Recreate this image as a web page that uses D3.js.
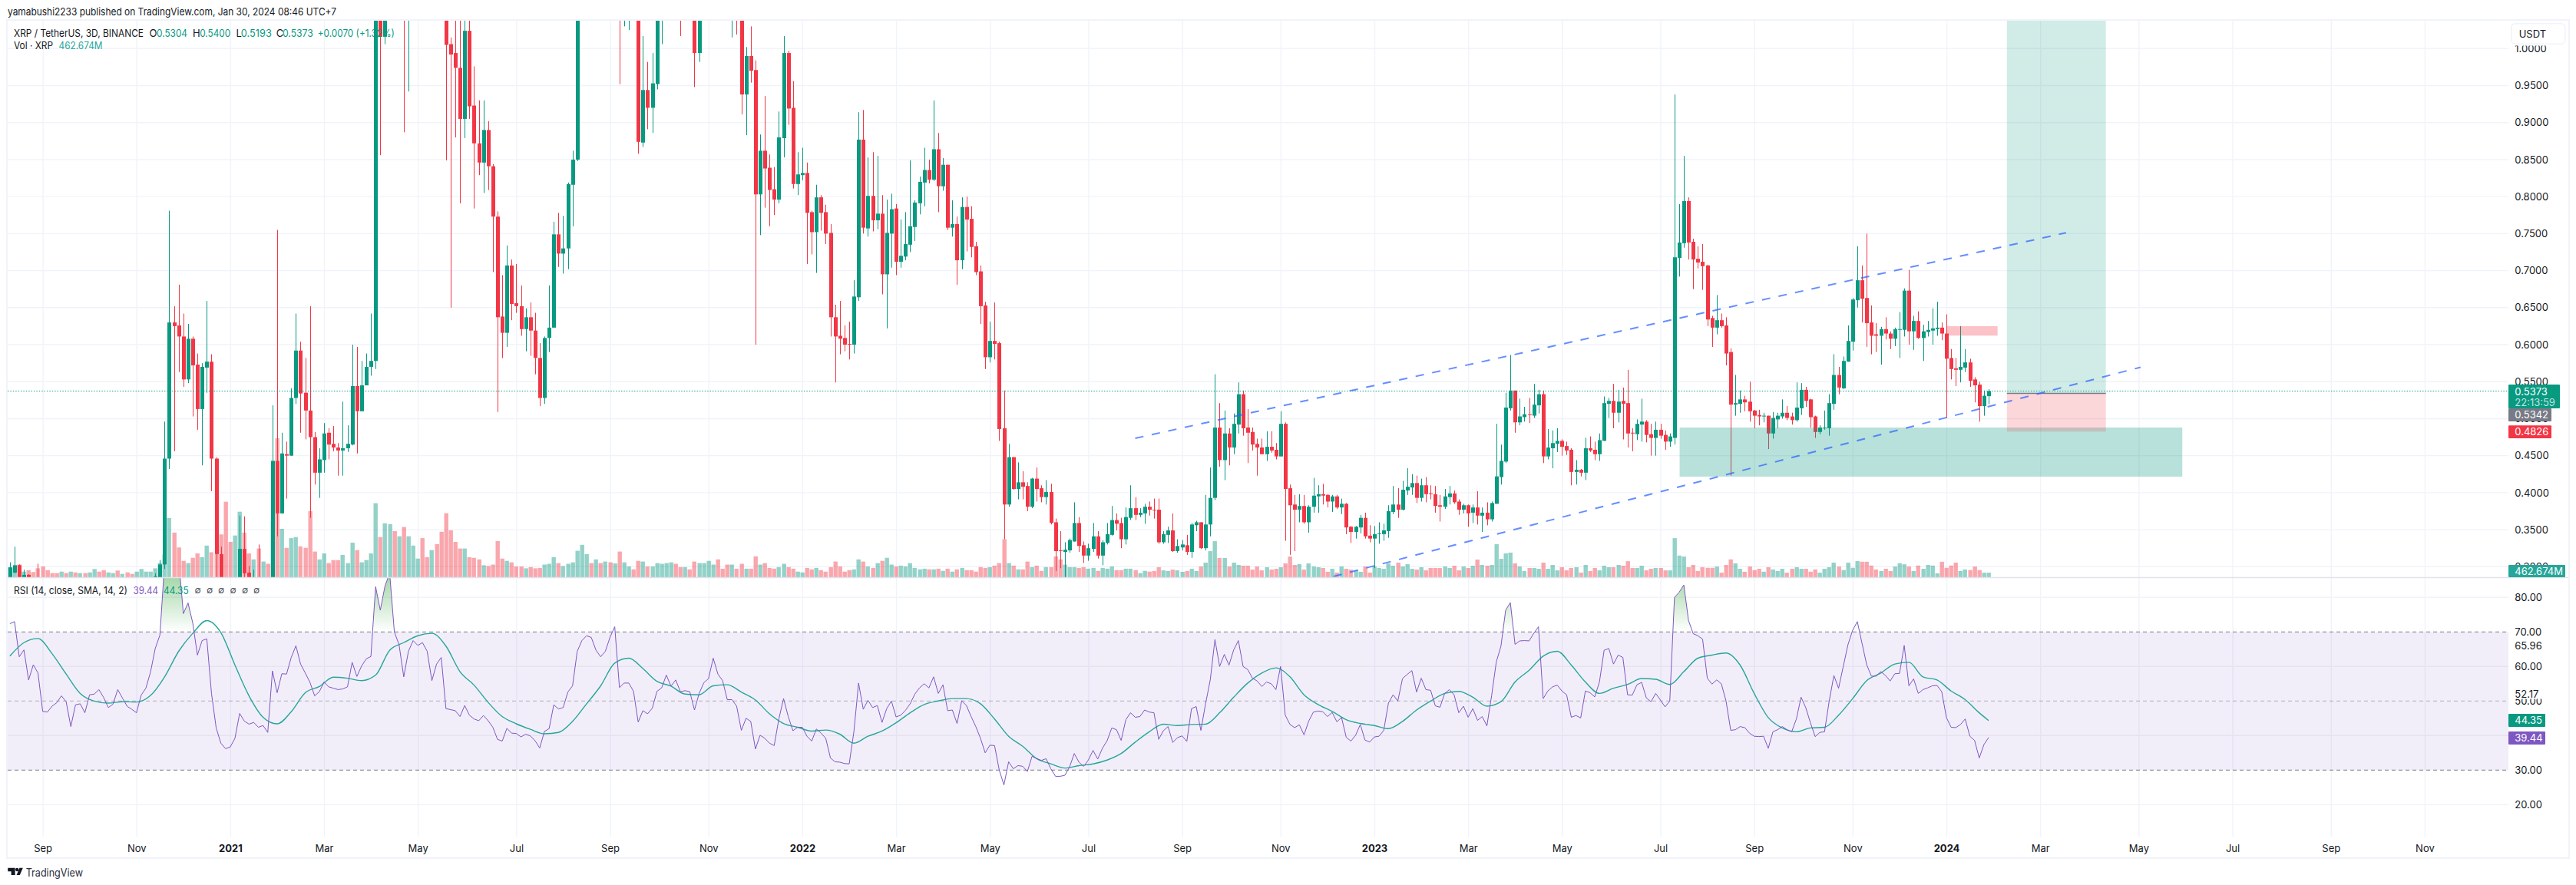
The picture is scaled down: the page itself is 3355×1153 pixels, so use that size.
<!DOCTYPE html>
<html>
<head>
<meta charset="utf-8">
<script src="https://cdn.jsdelivr.net/npm/d3@7/dist/d3.min.js"></script>
<style>
html,body{margin:0;padding:0;background:#fff}
svg{display:block}
text{font-family:Inter,"Noto Sans",sans-serif}
</style>
</head>
<body>
<svg id="chart" width="3355" height="1153"></svg>
<script>
// XRP / USDT three-day candles, Aug 2020 - Jan 2024
const opens=[.280,.292,.302,.275,.289,.280,.270,.268,.262,.255,
.248,.242,.248,.240,.244,.241,.246,.243,.247,.254,
.252,.246,.249,.255,.250,.252,.249,.246,.250,.254,
.258,.264,.285,.303,.446,.630,.626,.611,.553,.608,
.573,.513,.569,.577,.446,.317,.280,.240,.215,.265,
.324,.292,.270,.285,.270,.280,.270,.443,.372,.452,
.450,.528,.592,.535,.511,.475,.427,.444,.481,.466,
.461,.457,.460,.465,.544,.510,.545,.570,.578,1.12,
1.016,1.12,1.40,1.35,1.38,1.08,1.35,1.45,1.60,1.50,
1.45,1.60,1.50,1.30,1.006,.994,.974,.905,1.024,.923,
.872,.846,.890,.841,.773,.638,.616,.707,.656,.652,
.621,.637,.619,.582,.528,.609,.623,.749,.723,.730,
.816,.850,1.10,1.18,1.25,1.20,1.25,1.18,1.22,1.12,
1.18,1.10,1.15,1.18,1.10,.873,.944,.920,.952,1.06,
1.14,1.18,1.20,1.12,1.06,1.10,1.07,.994,1.06,1.12,
1.16,1.25,1.20,1.12,1.08,1.11,1.06,.938,.990,.971,
.803,.862,.839,.810,.796,.879,.994,.920,.817,.829,
.832,.779,.752,.799,.779,.751,.637,.612,.609,.601,
.600,.664,.877,.757,.801,.768,.777,.695,.750,.784,
.712,.719,.735,.759,.791,.819,.836,.823,.864,.814,
.843,.758,.763,.714,.786,.770,.733,.699,.653,.583,
.605,.602,.487,.384,.448,.405,.414,.409,.381,.419,
.406,.394,.401,.360,.322,.320,.322,.334,.359,.329,
.315,.324,.341,.315,.332,.343,.363,.359,.337,.366,
.379,.370,.372,.381,.377,.377,.333,.343,.349,.321,
.326,.329,.320,.356,.360,.325,.357,.393,.488,.444,
.480,.461,.492,.533,.488,.482,.466,.461,.452,.462,
.458,.449,.493,.406,.384,.377,.382,.360,.381,.395,
.398,.397,.388,.395,.380,.385,.354,.347,.353,.366,
.342,.338,.344,.344,.348,.374,.384,.377,.403,.407,
.413,.393,.410,.399,.398,.383,.381,.394,.399,.388,
.377,.383,.373,.380,.369,.373,.364,.385,.421,.442,
.514,.538,.495,.502,.506,.504,.518,.533,.449,.460,
.466,.470,.463,.458,.428,.431,.427,.460,.458,.452,
.470,.520,.524,.508,.524,.521,.481,.479,.492,.496,
.479,.474,.485,.478,.469,.474,.717,.737,.794,.739,
.716,.712,.707,.636,.623,.633,.626,.590,.519,.520,
.526,.523,.511,.505,.503,.504,.480,.499,.503,.508,
.503,.498,.514,.539,.526,.503,.482,.487,.487,.520,
.559,.541,.577,.604,.660,.687,.663,.630,.614,.612,
.621,.615,.608,.620,.620,.673,.618,.632,.609,.617,
.619,.621,.623,.615,.582,.568,.566,.569,.576,.553,
.546,.517,.5304];
const closes=[.299,.302,.275,.289,.280,.270,.268,.262,.255,.248,
.242,.248,.240,.244,.241,.246,.243,.247,.254,.252,
.246,.249,.255,.250,.252,.249,.246,.250,.254,.258,
.264,.287,.303,.446,.630,.625,.611,.553,.608,.572,
.513,.570,.577,.446,.317,.280,.240,.215,.265,.324,
.291,.275,.280,.270,.280,.270,.443,.372,.453,.450,
.528,.592,.534,.511,.475,.427,.445,.480,.465,.461,
.457,.460,.466,.544,.510,.545,.570,.578,1.12,1.016,
1.12,1.40,1.35,1.38,1.08,1.35,1.45,1.60,1.50,1.45,
1.60,1.50,1.30,1.005,.992,.974,.905,1.024,.922,.872,
.846,.890,.841,.773,.637,.616,.707,.655,.652,.621,
.637,.619,.582,.528,.609,.623,.749,.723,.730,.817,
.850,1.10,1.18,1.25,1.20,1.25,1.18,1.22,1.12,1.18,
1.10,1.15,1.18,1.10,.874,.944,.920,.953,1.06,1.14,
1.18,1.20,1.12,1.06,1.10,1.06,.994,1.06,1.12,1.16,
1.25,1.20,1.12,1.08,1.11,1.06,.938,.990,.970,.803,
.862,.838,.809,.796,.880,.994,.919,.817,.830,.832,
.778,.752,.799,.778,.750,.637,.611,.608,.600,.600,
.665,.877,.758,.801,.768,.777,.695,.751,.783,.712,
.720,.736,.760,.792,.820,.836,.823,.864,.814,.843,
.758,.763,.714,.786,.769,.732,.698,.652,.583,.605,
.601,.486,.384,.448,.405,.414,.408,.381,.419,.405,
.394,.401,.359,.321,.321,.323,.336,.359,.328,.315,
.325,.341,.315,.333,.344,.363,.358,.337,.367,.379,
.370,.373,.381,.377,.376,.333,.344,.349,.321,.328,
.330,.320,.357,.360,.325,.357,.393,.488,.444,.480,
.461,.493,.533,.487,.481,.465,.461,.452,.462,.457,
.449,.493,.405,.383,.377,.382,.360,.381,.396,.398,
.396,.388,.395,.380,.385,.353,.347,.354,.366,.341,
.338,.344,.345,.349,.375,.384,.377,.404,.408,.413,
.393,.410,.398,.398,.382,.381,.395,.399,.387,.377,
.383,.372,.380,.369,.373,.364,.386,.422,.443,.515,
.538,.495,.503,.506,.505,.519,.533,.449,.461,.467,
.470,.462,.457,.428,.431,.427,.460,.457,.452,.471,
.521,.524,.508,.523,.520,.480,.480,.493,.496,.478,
.474,.485,.477,.469,.476,.718,.738,.794,.738,.715,
.711,.706,.634,.623,.633,.625,.588,.519,.521,.526,
.522,.510,.504,.503,.504,.480,.501,.504,.508,.501,
.498,.515,.539,.524,.502,.482,.488,.488,.521,.559,
.542,.578,.605,.661,.687,.662,.629,.612,.612,.621,
.615,.608,.621,.621,.673,.618,.632,.609,.618,.620,
.622,.623,.615,.581,.567,.566,.570,.576,.551,.545,
.517,.531,.5373];
const highs=[.306,.327,.303,.296,.290,.284,.304,.278,.270,.262,
.256,.252,.254,.248,.250,.248,.254,.250,.256,.262,
.258,.254,.258,.260,.258,.260,.256,.254,.258,.262,
.270,.291,.309,.496,.781,.652,.681,.642,.628,.611,
.588,.575,.659,.587,.448,.327,.285,.250,.270,.369,
.368,.301,.296,.330,.284,.283,.518,.755,.481,.469,
.541,.642,.604,.582,.652,.482,.460,.494,.487,.490,
.467,.523,.491,.600,.597,.578,.588,.642,1.18,1.15,
1.25,1.42,1.50,1.50,1.42,1.50,1.52,1.65,1.70,1.62,
1.65,1.68,1.60,1.70,1.015,1.08,1.05,1.10,1.06,.976,
.930,.930,.902,.844,.780,.694,.734,.715,.709,.680,
.649,.657,.643,.602,.611,.680,.766,.778,.774,.819,
.862,1.15,1.25,1.35,1.35,1.32,1.35,1.28,1.30,1.20,
1.25,1.20,1.22,1.24,1.12,1.017,.982,.994,1.12,1.20,
1.20,1.25,1.26,1.16,1.14,1.12,1.10,1.10,1.14,1.20,
1.30,1.34,1.24,1.15,1.15,1.12,1.08,1.002,1.030,.984,
.884,.936,.857,.840,.915,1.017,.997,.956,.860,.866,
.846,.781,.816,.802,.789,.763,.654,.659,.626,.631,
.687,.914,.917,.853,.860,.855,.802,.796,.804,.790,
.769,.779,.849,.795,.827,.866,.850,.930,.886,.852,
.843,.795,.773,.799,.800,.787,.739,.707,.658,.631,
.657,.604,.538,.466,.448,.441,.429,.414,.420,.434,
.410,.417,.412,.365,.348,.333,.338,.387,.367,.334,
.331,.359,.348,.336,.359,.382,.372,.366,.380,.410,
.394,.379,.385,.388,.392,.392,.348,.354,.372,.337,
.336,.343,.359,.362,.360,.397,.434,.560,.521,.511,
.487,.507,.549,.538,.513,.488,.473,.473,.483,.483,
.467,.510,.495,.411,.397,.398,.397,.383,.420,.410,
.412,.398,.397,.397,.392,.386,.355,.355,.370,.373,
.356,.355,.360,.358,.383,.409,.406,.416,.433,.425,
.423,.419,.421,.410,.409,.397,.405,.409,.403,.391,
.385,.384,.384,.402,.380,.387,.388,.493,.465,.535,
.586,.538,.527,.516,.528,.547,.539,.538,.486,.484,
.487,.472,.469,.460,.444,.432,.474,.476,.469,.480,
.530,.528,.547,.539,.542,.566,.487,.499,.527,.498,
.493,.496,.493,.484,.480,.938,.790,.855,.799,.743,
.733,.736,.708,.639,.667,.642,.637,.595,.559,.538,
.531,.550,.512,.512,.508,.504,.509,.508,.526,.517,
.508,.549,.548,.543,.527,.504,.491,.511,.533,.587,
.570,.584,.626,.663,.733,.707,.750,.653,.629,.624,
.637,.618,.623,.644,.676,.701,.639,.645,.627,.632,
.649,.658,.630,.641,.594,.582,.625,.594,.581,.556,
.550,.538,.5400];
const lows=[.272,.291,.268,.270,.272,.265,.262,.255,.250,.245,
.238,.236,.238,.234,.238,.236,.240,.236,.242,.248,
.244,.240,.244,.246,.244,.246,.240,.236,.244,.248,
.252,.258,.275,.297,.432,.456,.563,.543,.548,.503,
.485,.437,.535,.402,.280,.270,.210,.200,.205,.270,
.275,.260,.262,.258,.262,.260,.255,.341,.372,.392,
.450,.520,.481,.472,.366,.411,.393,.427,.445,.456,
.423,.423,.455,.464,.453,.510,.549,.558,.567,.856,
1.006,1.10,1.20,1.20,.887,.942,1.30,1.40,1.42,1.38,
1.35,1.40,1.28,.849,.650,.880,.791,.879,.905,.784,
.829,.805,.809,.698,.509,.582,.597,.633,.643,.612,
.591,.585,.560,.517,.520,.590,.623,.705,.696,.702,
.760,.848,1.07,1.10,1.12,1.10,1.15,1.08,1.10,1.06,
.952,1.030,1.025,1.06,.858,.867,.891,.886,.945,1.006,
1.08,1.12,1.10,1.017,1.045,1.045,.948,.982,1.05,1.08,
1.12,1.14,1.08,1.05,1.015,1.019,.911,.883,.954,.600,
.748,.785,.760,.775,.791,.853,.897,.811,.802,.822,
.709,.722,.697,.754,.736,.611,.549,.587,.591,.580,
.588,.659,.750,.746,.753,.756,.668,.622,.704,.694,
.704,.714,.725,.740,.776,.787,.818,.821,.779,.808,
.755,.746,.681,.702,.726,.718,.694,.628,.567,.576,
.580,.470,.337,.381,.404,.391,.391,.375,.379,.388,
.387,.384,.357,.294,.298,.285,.319,.334,.320,.305,
.308,.320,.311,.302,.330,.342,.349,.325,.330,.363,
.363,.367,.358,.369,.365,.331,.331,.332,.320,.319,
.322,.316,.312,.348,.324,.322,.341,.390,.435,.417,
.437,.452,.480,.477,.440,.457,.423,.452,.443,.454,
.445,.449,.335,.316,.321,.360,.358,.346,.373,.373,
.384,.380,.374,.378,.371,.344,.332,.338,.345,.338,
.333,.298,.331,.335,.339,.371,.366,.376,.397,.397,
.386,.388,.387,.391,.373,.361,.378,.384,.385,.370,
.372,.354,.359,.357,.347,.356,.361,.385,.411,.440,
.511,.481,.491,.496,.494,.501,.507,.440,.445,.433,
.455,.450,.451,.410,.411,.422,.417,.455,.444,.443,
.470,.501,.487,.495,.472,.461,.456,.471,.469,.468,
.450,.450,.473,.458,.462,.465,.692,.731,.715,.675,
.703,.674,.625,.597,.614,.623,.572,.423,.504,.508,
.510,.496,.487,.491,.495,.459,.473,.487,.500,.498,
.492,.496,.505,.516,.488,.474,.479,.485,.477,.512,
.533,.540,.577,.592,.650,.630,.597,.587,.590,.573,
.607,.594,.598,.582,.611,.600,.593,.608,.578,.611,
.600,.612,.606,.501,.553,.544,.549,.563,.543,.522,
.496,.504,.5193];
// traded volume per bar, millions of XRP
const volumes=[1030,1030,1290,570,720,530,910,1100,720,420,
420,570,420,570,490,420,420,490,840,570,
720,490,420,680,340,490,340,570,840,570,
570,910,1440,2300,6040,4560,3040,1670,1440,1980,
2430,2050,3230,2550,2360,4370,7710,3610,4260,6690,
4560,2430,1820,2930,1600,1370,5780,14210,4940,3000,
3990,4100,3150,3000,6760,2620,1820,2430,1440,1750,
1750,2280,1440,3530,2770,1520,1750,2430,7560,4100,
5510,5430,4710,4180,5130,4180,3230,1900,3990,2050,
2770,3380,4640,6540,4790,3610,2930,2930,2050,1980,
1820,1220,1140,1290,3690,1900,1670,1520,1100,1100,
910,1030,910,950,1290,1370,2050,1440,1140,1370,
1520,2700,3310,2360,1440,1820,1440,1600,1520,1410,
2620,1520,1100,800,1670,1600,1100,1100,1440,1370,
1440,1520,1370,1030,1030,800,1600,1440,1440,1670,
1290,1820,870,1290,1290,870,1370,870,870,2130,
1290,1440,950,870,1030,1370,1030,870,570,490,
950,800,950,720,570,1030,1600,1100,570,720,
800,1820,1600,1100,950,1440,1670,1980,1290,1100,
1180,1100,1440,950,800,870,800,800,870,650,
870,570,800,950,720,720,570,1030,950,1030,
1180,1440,3880,1440,1180,800,800,1600,1030,1180,
650,1030,1030,2130,1820,1290,1030,1030,950,1030,
870,950,650,950,870,1100,720,720,870,870,
720,420,650,570,630,1020,700,630,780,700,
550,630,860,630,1100,1490,2660,3680,1960,1960,
1100,1490,1250,1170,1170,780,1100,700,1020,780,
860,1020,1410,2110,1250,1330,780,1410,1100,1020,
940,550,860,470,1100,860,780,700,550,1100,
470,1100,940,860,1410,1170,1490,1100,1330,860,
780,1020,700,940,940,940,1100,940,1170,700,
1100,940,1170,1800,1250,1170,1250,3370,1880,2430,
2510,1410,1100,630,940,940,860,1490,860,1250,
700,1020,700,940,1020,470,1250,630,940,700,
1170,1020,1020,1250,1170,1640,940,940,1170,700,
860,940,940,700,700,3990,2210,2110,1020,1250,
630,1020,960,960,1090,460,1250,1820,1420,860,
560,1090,730,860,560,1020,790,630,860,460,
860,1020,860,860,560,790,460,860,1020,1490,
1090,730,1490,960,1650,1580,1580,1190,790,630,
860,630,1090,1420,1320,1090,630,1190,860,1250,
1190,400,1580,960,1190,1490,630,790,730,1090,
730,460,462.674];
// RSI(14) of the close, one value per bar
const rsiValues=[72.4,73.0,62.8,64.8,56.1,60.5,58.1,47.0,46.8,48.5,
49.5,51.5,49.8,42.6,48.9,49.2,46.6,51.8,52.0,53.3,
51.0,48.1,49.1,53.3,50.9,48.5,47.6,46.6,51.7,53.7,
58.4,65.2,69.1,90,93,90,91,75.3,78.4,72.6,
63.3,67.5,68.0,52.2,42.2,37.8,36.2,36.7,39.2,46.4,
44.2,43.3,43.8,42.4,42.9,40.9,58.7,52.4,57.9,57.8,
62.6,66.0,60.7,58.1,55.4,51.5,52.7,55.5,54.1,53.7,
53.3,53.5,54.1,61.2,57.1,60.1,62.2,62.9,83.1,76.3,
83.3,87.0,70.0,66.3,57.0,64.4,67.5,66.1,66.9,64.4,
55.9,60.7,62.6,47.8,47.5,47.2,45.5,48.7,45.9,44.8,
44.3,45.8,44.3,42.4,38.9,38.4,42.1,40.7,40.6,39.6,
40.4,39.9,38.5,36.4,41.2,42.0,48.9,47.7,48.1,52.6,
54.4,64.4,67.5,68.9,68.4,64.7,62.8,64.4,68.5,71.5,
53.9,55.2,55.2,52.8,43.9,47.2,46.3,47.9,52.8,53.8,
57.5,54.3,56.1,52.7,53.0,52.7,47.4,52.2,55.3,56.5,
62.4,57.8,55.9,50.4,50.4,48.5,41.5,45.0,44.1,36.1,
40.1,39.2,37.8,37.1,44.8,50.7,45.5,41.4,42.4,42.4,
39.8,38.4,41.9,40.7,39.2,33.5,32.4,32.3,31.9,31.8,
41.1,55.2,47.6,50.2,48.1,48.7,43.8,47.8,50.0,45.4,
45.9,47.3,49.2,52.0,53.8,55.0,53.8,57.0,52.2,54.7,
47.2,47.4,43.5,50.1,48.7,45.5,42.6,39.2,35.0,37.2,
37.1,30.0,25.7,32.4,30.4,31.3,31.1,29.6,34.0,33.3,
32.8,33.3,30.4,28.2,28.2,28.5,30.9,34.8,32.3,31.1,
32.9,35.7,33.2,36.3,38.5,42.2,41.7,38.6,44.6,46.6,
45.3,45.5,47.4,46.8,46.6,38.9,41.4,42.6,38.0,39.4,
39.9,38.3,47.8,48.4,41.5,49.2,56.1,67.8,60.0,63.5,
60.4,64.8,67.5,60.0,59.1,56.6,55.8,54.2,55.5,55.0,
53.3,60.0,45.9,43.2,42.3,43.1,40.2,44.2,46.8,47.1,
46.9,45.5,46.7,44.0,45.2,39.5,38.4,40.1,43.2,38.7,
38.1,39.6,39.8,41.5,49.4,51.8,50.0,56.5,57.7,58.8,
52.6,56.6,53.3,53.1,48.6,48.2,52.2,53.3,51.8,46.6,
48.5,45.3,47.8,44.4,45.5,42.8,51.5,61.3,65.9,76.3,
78.5,66.4,67.4,67.5,67.4,69.6,71.5,50.7,52.9,54.1,
54.6,52.9,51.8,45.3,45.8,45.1,52.9,52.4,51.2,55.5,
64.7,65.2,60.7,63.3,62.6,51.8,51.7,54.7,55.4,50.9,
49.8,52.2,50.3,48.3,50.0,80.0,81.5,83.6,73.3,69.5,
68.9,67.9,56.6,54.9,56.1,55.0,50.0,41.5,41.7,42.6,
42.3,40.7,39.8,39.7,39.8,36.3,41.1,41.7,42.6,41.7,
41.1,44.8,51.1,48.1,43.7,39.7,40.9,41.1,50.0,57.4,
53.7,60.0,66.3,70.5,73.0,66.7,60.5,57.2,57.2,58.5,
57.4,55.8,57.9,58.0,66.1,54.4,56.4,52.2,53.3,53.8,
54.4,54.5,52.7,45.2,42.4,42.3,43.2,44.8,39.8,38.6,
33.5,37.4,39.44];
// smoothing average of the RSI, read every third bar and at the last bar
const smaBars=d3.range(0,421,3).concat([422]);
const smaValues=[63.0,66.9,68.1,63.7,57.8,52.2,50.0,49.4,49.8,49.7,
51.6,57.0,64.4,69.6,73.3,69.8,60.4,51.5,45.3,43.4,
46.9,52.4,54.2,56.9,56.6,55.9,57.5,64.7,66.9,68.9,
69.6,65.9,58.5,54.6,49.6,45.5,43.4,41.8,40.5,40.9,
44.1,49.2,54.4,61.0,62.4,59.4,55.7,54.3,52.0,51.8,
54.4,54.7,52.6,50.3,46.3,43.5,42.4,41.3,41.6,40.4,
37.8,39.8,41.3,43.7,46.6,49.0,50.0,50.7,50.7,49.2,
44.8,39.8,36.9,33.3,31.8,30.6,31.3,31.8,32.9,34.8,
38.1,41.1,43.3,42.9,43.2,43.3,46.6,51.1,55.2,58.1,
59.6,57.0,51.8,49.0,47.0,44.6,43.5,42.9,42.0,44.1,
47.4,50.0,52.2,52.8,51.1,48.5,49.8,55.5,58.9,63.0,
64.4,60.4,55.5,52.2,53.7,54.8,56.5,56.3,54.8,58.5,
62.4,63.3,63.9,60.4,52.2,45.2,42.2,41.1,42.2,42.4,
45.9,50.7,55.9,58.1,60.7,61.2,57.0,56.1,52.9,50.4,
46.6,44.35];

// time axis: bar index of each two-month mark
const tickBars=[7,27,47,67,87,108,128,149,169,189,209,230,250,271,291,311,331,352,372,393,413,433,454,474,495,515];
const tickLabels=["Sep","Nov","2021","Mar","May","Jul","Sep","Nov","2022","Mar","May","Jul","Sep","Nov","2023","Mar","May","Jul","Sep","Nov","2024","Mar","May","Jul","Sep","Nov"];
const priceTicks=[1,.95,.9,.85,.8,.75,.7,.65,.6,.55,.5,.45,.4,.35,.3];
const rsiTicks=[80,70,60,50,40,30,20];
const rsiGrid=[80,60,40,20];

// drawn levels
const lastClose=.5373, entryPrice=.5342, stopPrice=.4826, targetPrice=1.3;
const channelUpper={bars:[240,438.5],prices:[.4735,.7511]};
const channelLower={bars:[282.3,454.4],prices:[.2869,.5695]};
const demandZone={bars:[356.1,463.3],prices:[.488,.4217]};
const supplyZone={bars:[413.1,423.9],prices:[.625,.6122]};
const positionBars=[425.9,447];

// pane geometry
const paneLeft=10,paneRight=3267,frameRight=3345,paneTop=27,priceBottom=752,rsiBottom=1090,frameBottom=1118;
const GREEN="#089981",RED="#f23645",PURPLE="#7e57c2",GRID="#f0f3fa",INK="#131722";

const x=d3.scaleLinear().domain([0,422]).range([12.85,2590]);
const y=d3.scaleLinear().domain([1,.3]).range([63.3,738.3]);
const yVol=d3.scaleLinear().domain([0,56840]).range([priceBottom,paneTop]);
const yRsi=d3.scaleLinear().domain([80,20]).range([778.3,1048.3]);

const svg=d3.select("#chart");
const defs=svg.append("defs");
defs.append("clipPath").attr("id","pricePane").append("rect")
  .attr("x",paneLeft).attr("y",paneTop).attr("width",paneRight-paneLeft).attr("height",priceBottom-paneTop);
defs.append("clipPath").attr("id","rsiPane").append("rect")
  .attr("x",paneLeft).attr("y",priceBottom).attr("width",paneRight-paneLeft).attr("height",rsiBottom-priceBottom);
defs.append("clipPath").attr("id","overbought").append("rect")
  .attr("x",paneLeft).attr("y",priceBottom).attr("width",paneRight-paneLeft).attr("height",yRsi(70)-priceBottom);
const grad=defs.append("linearGradient").attr("id","obFill").attr("gradientUnits","userSpaceOnUse")
  .attr("x1",0).attr("x2",0).attr("y1",yRsi(70)).attr("y2",yRsi(86));
grad.append("stop").attr("offset",0).attr("stop-color","#4caf50").attr("stop-opacity",0);
grad.append("stop").attr("offset",1).attr("stop-color","#4caf50").attr("stop-opacity",.5);

svg.append("rect").attr("width",3355).attr("height",1153).attr("fill","#fff");

// vertical grid and time labels share one axis
const xAxis=d3.axisBottom(x).tickValues(tickBars).tickSize(rsiBottom-paneTop).tickPadding(11)
  .tickFormat(i=>tickLabels[tickBars.indexOf(i)]);
const gx=svg.append("g").attr("transform",`translate(0,${paneTop})`).call(xAxis);
gx.select(".domain").remove();
gx.selectAll("line").attr("stroke",GRID).attr("stroke-width",1.4);
gx.selectAll("text").attr("fill",INK).attr("font-size",13)
  .attr("font-weight",d=>/^\d+$/.test(tickLabels[tickBars.indexOf(d)])?700:400)
  .attr("font-family","Inter,sans-serif");

// horizontal grids
svg.append("g").selectAll("line").data(priceTicks).join("line")
  .attr("x1",paneLeft).attr("x2",paneRight).attr("y1",d=>y(d)).attr("y2",d=>y(d))
  .attr("stroke",GRID).attr("stroke-width",1.4);

// RSI band and levels
svg.append("rect").attr("x",paneLeft).attr("width",paneRight-paneLeft)
  .attr("y",yRsi(70)).attr("height",yRsi(30)-yRsi(70))
  .attr("fill",PURPLE).attr("fill-opacity",.1);
svg.append("g").selectAll("line").data(rsiGrid).join("line")
  .attr("x1",paneLeft).attr("x2",paneRight).attr("y1",d=>yRsi(d)).attr("y2",d=>yRsi(d))
  .attr("stroke",d=>(d==60||d==40)?"#e6e3ef":GRID).attr("stroke-width",1.4);
svg.append("g").selectAll("line").data([70,50,30]).join("line")
  .attr("x1",paneLeft).attr("x2",paneRight).attr("y1",d=>yRsi(d)).attr("y2",d=>yRsi(d))
  .attr("stroke","#787b86").attr("stroke-opacity",d=>d==50?.55:1)
  .attr("stroke-width",1).attr("stroke-dasharray","5 4");

// volume histogram
const bullish=i=>closes[i]>=opens[i];
svg.append("g").attr("clip-path","url(#pricePane)").selectAll("rect").data(volumes).join("rect")
  .attr("x",(d,i)=>Math.round(x(i))-2.5).attr("width",5.4)
  .attr("y",d=>yVol(d)).attr("height",d=>priceBottom-yVol(d))
  .attr("fill",(d,i)=>bullish(i)?GREEN:RED).attr("fill-opacity",.44);

// candles
const candles=svg.append("g").attr("clip-path","url(#pricePane)").selectAll("g").data(closes).join("g")
  .attr("fill",(d,i)=>bullish(i)?GREEN:RED);
candles.append("rect")
  .attr("x",(d,i)=>Math.round(x(i))).attr("width",1)
  .attr("y",(d,i)=>y(highs[i])).attr("height",(d,i)=>y(lows[i])-y(highs[i]));
candles.append("rect")
  .attr("x",(d,i)=>Math.round(x(i))-2).attr("width",5)
  .attr("y",(d,i)=>y(Math.max(opens[i],closes[i])))
  .attr("height",(d,i)=>Math.max(1,Math.abs(y(opens[i])-y(closes[i]))));

// drawn rectangles and long-position tool
const drawings=svg.append("g").attr("clip-path","url(#pricePane)");
const zone=(bars,hi,lo,fill,op)=>drawings.append("rect")
  .attr("x",x(bars[0])).attr("width",x(bars[1])-x(bars[0]))
  .attr("y",y(hi)).attr("height",y(lo)-y(hi)).attr("fill",fill).attr("fill-opacity",op);
zone(demandZone.bars,demandZone.prices[0],demandZone.prices[1],GREEN,.29);
zone(supplyZone.bars,supplyZone.prices[0],supplyZone.prices[1],RED,.3);
zone(positionBars,targetPrice,entryPrice,GREEN,.19);
zone(positionBars,entryPrice,stopPrice,RED,.2);
drawings.append("line").attr("x1",x(positionBars[0])).attr("x2",x(positionBars[1]))
  .attr("y1",y(entryPrice)).attr("y2",y(entryPrice)).attr("stroke","#787b86").attr("stroke-width",1.5);

// channel lines
const trend=d3.line().x(d=>x(d[0])).y(d=>y(d[1]));
[channelUpper,channelLower].forEach(c=>{
  drawings.append("path").attr("d",trend(d3.zip(c.bars,c.prices)))
    .attr("fill","none").attr("stroke","#2962ff").attr("stroke-opacity",.72)
    .attr("stroke-width",2).attr("stroke-dasharray","11 11");
});

// last-close marker line
svg.append("line").attr("x1",paneLeft).attr("x2",paneRight).attr("y1",y(lastClose)).attr("y2",y(lastClose))
  .attr("stroke",GREEN).attr("stroke-width",1).attr("stroke-dasharray","1.4 2");

// RSI panel lines
const rsiPanel=svg.append("g").attr("clip-path","url(#rsiPane)");
const rsiBars=rsiValues.map((v,i)=>i);
rsiPanel.append("g").attr("clip-path","url(#overbought)").append("path")
  .attr("d",d3.area().x(i=>x(i)).y0(yRsi(70)).y1(i=>yRsi(rsiValues[i]))(rsiBars))
  .attr("fill","url(#obFill)");
rsiPanel.append("path")
  .attr("d",d3.line().x((d,k)=>x(smaBars[k])).y(d=>yRsi(d)).curve(d3.curveMonotoneX)(smaValues))
  .attr("fill","none").attr("stroke","#26a69a").attr("stroke-width",1.4);
rsiPanel.append("path")
  .attr("d",d3.line().x((d,i)=>x(i)).y(d=>yRsi(d))(rsiValues))
  .attr("fill","none").attr("stroke",PURPLE).attr("stroke-width",1);

// pane separator and outer frame
svg.append("line").attr("x1",paneLeft).attr("x2",frameRight).attr("y1",priceBottom+.5).attr("y2",priceBottom+.5)
  .attr("stroke","#e0e3eb").attr("stroke-width",1.5);
svg.append("rect").attr("x",paneLeft-1).attr("y",paneTop-1).attr("width",frameRight-paneLeft+2).attr("height",frameBottom-paneTop+1)
  .attr("fill","none").attr("stroke",GRID).attr("stroke-width",2);

// right-hand scales
const priceAxis=d3.axisRight(y).tickValues(priceTicks).tickSize(0).tickPadding(0).tickFormat(d3.format(".4f"));
const gp=svg.append("g").attr("transform","translate(3275.3,0)").call(priceAxis);
gp.select(".domain").remove();
gp.selectAll("text").attr("fill",INK).attr("font-size",13).attr("font-family","Inter,sans-serif");
const rsiAxis=d3.axisRight(yRsi).tickValues(rsiTicks).tickSize(0).tickPadding(0).tickFormat(d3.format(".2f"));
const gr=svg.append("g").attr("transform","translate(3275.3,0)").call(rsiAxis);
gr.select(".domain").remove();
gr.selectAll("text").attr("fill",INK).attr("font-size",13).attr("font-family","Inter,sans-serif");

const label=(txt,px,py,fill,size,weight,anchor)=>svg.append("text").attr("x",px).attr("y",py).attr("dy",".36em")
  .attr("fill",fill).attr("font-size",size||13).attr("font-weight",weight||400)
  .attr("text-anchor",anchor||"start").text(txt);
const fit=(sel,width)=>sel.attr("textLength",width).attr("lengthAdjust","spacingAndGlyphs");
const box=(px,py,w,h,fill)=>svg.append("rect").attr("x",px).attr("y",py).attr("width",w).attr("height",h).attr("fill",fill).attr("rx",1);

// currency button covering the top tick
box(3267,28,76,31.5,"#fff");
svg.append("rect").attr("x",3270.8).attr("y",30.8).attr("width",70).attr("height",26.4).attr("rx",5)
  .attr("fill","#fff").attr("stroke",GRID).attr("stroke-width",1.5);
label("USDT",3280.7,44,INK,13);

// price badges
box(3267,501,67,31,GREEN);
label(d3.format(".4f")(lastClose),3275.3,510,"#fff");
label("22:13:59",3275.3,524,"#fff").attr("fill-opacity",.75);
box(3267,532,56,17,"#787b86");
label(d3.format(".4f")(entryPrice),3275.3,540.5,"#fff");
box(3267,554.3,56,16.7,RED);
label(d3.format(".4f")(stopPrice),3275.3,562.5,"#fff");
box(3267,736,74,16,"#26a69a");
label("462.674M",3275.3,744,"#fff");

// RSI badges and extra readouts
label("65.96",3275.3,841.7,INK);
box(3267,896,60,14.6,"#fff");
label("52.17",3275.3,904,INK);
box(3267,930,48,17,GREEN);
label(d3.format(".2f")(44.35),3275.3,938.5,"#fff");
box(3267,953,48,17,PURPLE);
label(d3.format(".2f")(39.44),3275.3,961.5,"#fff");

// header and legends
fit(label("yamabushi2233 published on TradingView.com, Jan 30, 2024 08:46 UTC+7",10,15.5,INK),428);
fit(label("XRP / TetherUS, 3D, BINANCE",18,43,INK),169);
const ohlc=[["O","0.5304",194.4,204],["H","0.5400",251,260.2],["L","0.5193",307.6,313.8],["C","0.5373",359.7,367.9]];
ohlc.forEach(r=>{label(r[0],r[2],43,INK);fit(label(r[1],r[3],43,GREEN),40);});
fit(label("+0.0070 (+1.32%)",413.8,43,GREEN),100);
fit(label("Vol · XRP",18,59.6,INK),51);
fit(label("462.674M",76.5,59.6,"#26a69a"),57);
fit(label("RSI (14, close, SMA, 14, 2)",18,769,INK),148);
fit(label("39.44",173.5,769,PURPLE),32.6);
fit(label("44.35",213,769,GREEN),32.6);
[257.6,273,288,303.6,319,334].forEach(px=>label("∅",px,769,"#4a4e59",12,400,"middle"));

// footer mark
const logo=svg.append("g").attr("fill",INK);
logo.append("path").attr("d","M10.2 1130.8H19.6V1140H14.6V1135.2H10.2Z");
logo.append("circle").attr("cx",22.2).attr("cy",1133).attr("r",2.2);
logo.append("path").attr("d","M25.4 1130.8H29.8L25.8 1140H21.6Z");
fit(label("TradingView",33.7,1137,"#2a2e39",14),74.3);
</script>
</body>
</html>
